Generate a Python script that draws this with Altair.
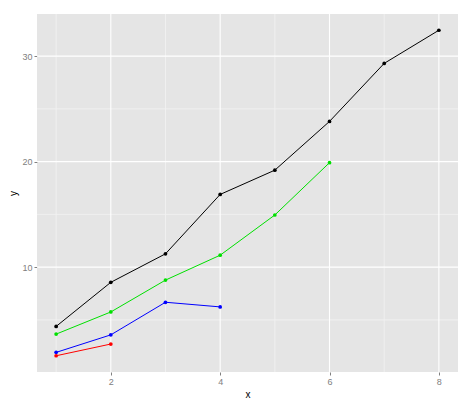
import altair as alt
import pandas as pd

black_x = [1, 2, 3, 4, 5, 6, 7, 8]
black_y = [4.38, 8.56, 11.26, 16.89, 19.19, 23.81, 29.31, 32.45]
green_x = [1, 2, 3, 4, 5, 6]
green_y = [3.65, 5.75, 8.77, 11.13, 14.94, 19.9]
blue_x = [1, 2, 3, 4]
blue_y = [1.92, 3.58, 6.67, 6.23]
red_x = [1, 2]
red_y = [1.6, 2.71]

major_x = [2, 4, 6, 8]
major_y = [10, 20, 30]
minor_x = [1, 3, 5, 7]
minor_y = [5, 15, 25]

rows = []
for name, xs, ys in [("black", black_x, black_y), ("green", green_x, green_y),
                     ("blue", blue_x, blue_y), ("red", red_x, red_y)]:
    for xv, yv in zip(xs, ys):
        rows.append({"x": xv, "y": yv, "g": name})
df = pd.DataFrame(rows)

xscale = alt.Scale(domain=[0.65, 8.35], nice=False, zero=False)
yscale = alt.Scale(domain=[0.06, 33.99], nice=False, zero=False)

color = alt.Color("g:N", scale=alt.Scale(domain=["black", "green", "blue", "red"],
                                          range=["#000000", "#00e000", "#0000ff", "#ff0000"]),
                  legend=None)

xaxis = alt.Axis(values=major_x, title="x", grid=False,
                 labelColor="#808080", labelFontSize=9, labelFont="Liberation Sans",
                 tickColor="#808080", tickSize=3, domain=False, titleFontWeight="normal",
                 titleFontSize=10, titleFont="Liberation Sans", titleColor="black", titlePadding=3,
                 labelPadding=2)
yaxis = alt.Axis(values=major_y, title="y", grid=False,
                 labelColor="#808080", labelFontSize=9, labelFont="Liberation Sans",
                 tickColor="#808080", tickSize=3, domain=False, titleFontWeight="normal",
                 titleFontSize=10, titleFont="Liberation Sans", titleColor="black", titlePadding=3,
                 labelPadding=2)

X = lambda: alt.X("x:Q", scale=xscale, axis=xaxis, title="x")
Y = lambda: alt.Y("y:Q", scale=yscale, axis=yaxis, title="y")

minor_vx = alt.Chart(pd.DataFrame({"x": minor_x})).mark_rule(color="#f2f2f2", strokeWidth=0.8).encode(x=X())
minor_hy = alt.Chart(pd.DataFrame({"y": minor_y})).mark_rule(color="#f2f2f2", strokeWidth=0.8).encode(y=Y())
major_vx = alt.Chart(pd.DataFrame({"x": major_x})).mark_rule(color="#ffffff", strokeWidth=1.1).encode(x=X())
major_hy = alt.Chart(pd.DataFrame({"y": major_y})).mark_rule(color="#ffffff", strokeWidth=1.1).encode(y=Y())

base = alt.Chart(df).encode(
    x=X(),
    y=Y(),
    color=color,
    detail="g:N",
)
lines = base.mark_line(strokeWidth=1)
points = base.mark_point(filled=True, size=14, opacity=1)

chart = alt.layer(minor_vx, minor_hy, major_vx, major_hy, lines, points).properties(
    width=421, height=358,
    padding={"left": 0, "top": 5, "right": 0, "bottom": 0},
).configure_view(fill="#e5e5e5", stroke=None)

chart.save("out.html", embed_options={"renderer": "svg", "actions": False})
